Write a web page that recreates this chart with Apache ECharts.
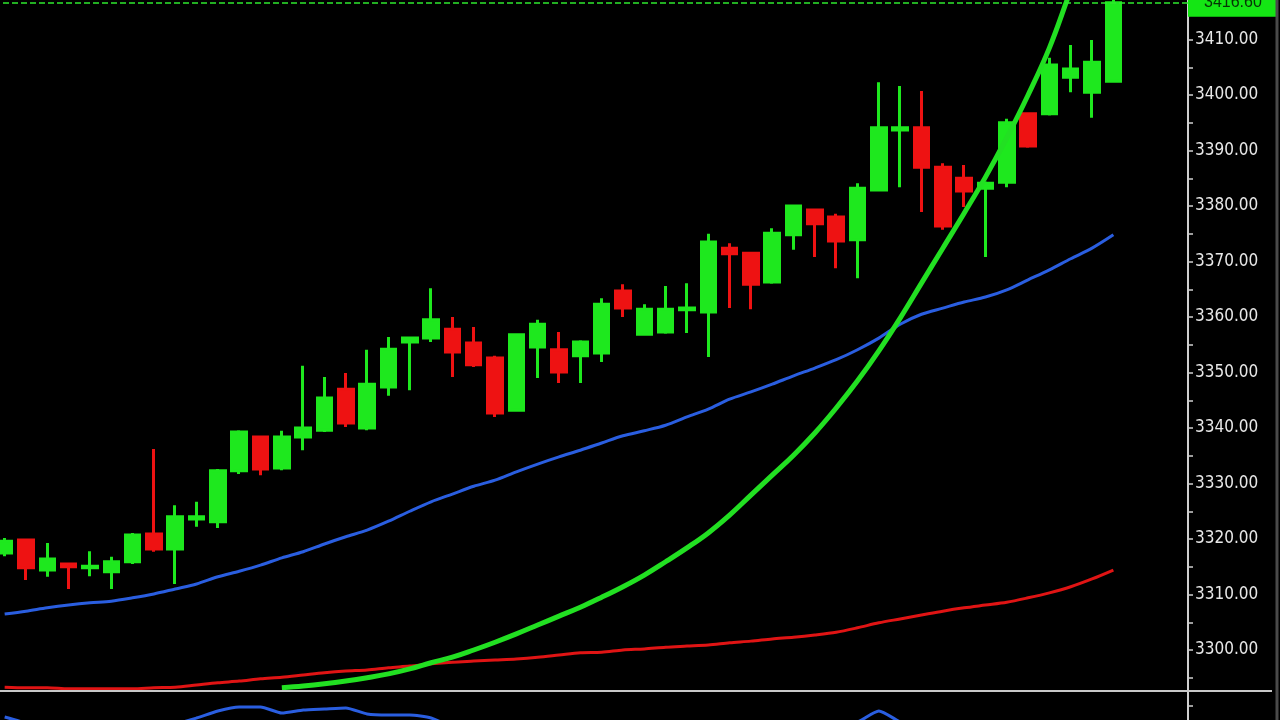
<!DOCTYPE html>
<html>
<head>
<meta charset="utf-8">
<script src="https://cdn.jsdelivr.net/npm/echarts@6/dist/echarts.min.js"></script>
<style>
html,body{margin:0;padding:0;background:#000;}
#chart{width:1280px;height:720px;}
</style>
</head>
<body>
<div id="chart"></div>
<script>
// ---- data ----
var categories = ['D01','D02','D03','D04','D05','D06','D07','D08','D09','D10','D11','D12','D13','D14','D15','D16','D17','D18','D19','D20','D21','D22','D23','D24','D25','D26','D27','D28','D29','D30','D31','D32','D33','D34','D35','D36','D37','D38','D39','D40','D41','D42','D43','D44','D45','D46','D47','D48','D49','D50','D51','D52','D53','D54','D55','D56'];
var opens  = [3317.5,3319.8,3314.4,3315.5,3314.8,3314.1,3315.9,3320.9,3318.2,3323.6,3323.1,3332.3,3338.4,3332.8,3338.4,3339.6,3347.0,3340.0,3347.4,3355.5,3356.2,3357.8,3355.3,3352.6,3343.2,3354.6,3354.1,3353.0,3353.5,3364.7,3356.9,3357.3,3361.3,3360.9,3372.4,3371.5,3366.3,3374.8,3379.3,3378.0,3373.9,3382.9,3393.7,3394.1,3387.0,3385.0,3383.2,3384.3,3396.6,3396.6,3403.2,3400.5,3402.5];
var closes = [3319.6,3314.8,3316.4,3315.0,3315.1,3315.9,3320.7,3318.2,3324.0,3324.0,3332.3,3339.3,3332.6,3338.4,3340.0,3345.4,3340.9,3347.9,3354.2,3356.2,3359.5,3353.7,3351.4,3342.7,3356.8,3358.7,3350.1,3355.5,3362.3,3361.6,3361.4,3361.4,3361.6,3373.5,3371.4,3365.9,3375.1,3380.0,3376.8,3373.7,3383.2,3394.1,3394.1,3387.0,3376.4,3382.7,3384.1,3395.0,3390.8,3405.4,3404.7,3405.9,3416.6];
var lows   = [3316.9,3312.6,3313.2,3311.0,3313.3,3311.0,3315.5,3317.7,3311.9,3322.2,3322.0,3331.7,3331.5,3332.4,3336.0,3339.3,3340.2,3339.6,3345.8,3346.8,3355.5,3349.2,3351.0,3342.0,3343.0,3349.0,3348.1,3348.1,3351.9,3360.0,3356.6,3357.0,3357.1,3352.8,3361.6,3361.4,3366.0,3372.1,3370.8,3368.8,3367.0,3382.6,3383.4,3378.9,3375.7,3379.8,3370.8,3383.4,3390.5,3396.3,3400.5,3395.9,3402.3];
var highs  = [3320.2,3320.0,3319.3,3315.7,3317.8,3316.8,3321.1,3336.2,3326.1,3326.7,3332.6,3339.6,3338.6,3339.5,3351.2,3349.2,3349.9,3354.1,3356.4,3356.4,3365.2,3360.0,3358.2,3353.0,3357.0,3359.5,3357.3,3355.8,3363.4,3365.9,3362.3,3365.6,3366.1,3375.0,3373.3,3371.7,3376.0,3380.2,3379.5,3378.6,3384.1,3402.3,3401.6,3400.7,3387.7,3387.4,3384.4,3395.7,3396.9,3406.7,3409.0,3409.9,3419.5];
var blueLine = [3306.5,3307.0,3307.6,3308.1,3308.5,3308.8,3309.4,3310.1,3311.0,3311.9,3313.2,3314.2,3315.3,3316.6,3317.7,3319.1,3320.4,3321.6,3323.2,3325.0,3326.7,3328.1,3329.5,3330.6,3332.1,3333.5,3334.8,3336.0,3337.3,3338.6,3339.5,3340.5,3342.0,3343.4,3345.2,3346.5,3347.9,3349.4,3350.8,3352.3,3354.1,3356.2,3358.7,3360.5,3361.6,3362.7,3363.6,3364.9,3366.7,3368.5,3370.5,3372.4,3374.8];
var redLine = [3293.3,3293.2,3293.2,3293.0,3293.0,3293.0,3293.0,3293.2,3293.3,3293.7,3294.1,3294.4,3294.8,3295.1,3295.5,3295.9,3296.2,3296.4,3296.8,3297.1,3297.5,3297.8,3298.0,3298.2,3298.4,3298.7,3299.1,3299.5,3299.6,3300.0,3300.2,3300.5,3300.7,3300.9,3301.3,3301.6,3302.0,3302.3,3302.7,3303.2,3304.0,3304.9,3305.6,3306.3,3307.0,3307.6,3308.1,3308.6,3309.4,3310.3,3311.4,3312.8,3314.4];
var greenCurve = [null,null,null,null,null,null,null,null,null,null,null,null,null,3293.2,3293.5,3293.9,3294.4,3295.0,3295.7,3296.6,3297.7,3298.7,3300.0,3301.4,3302.9,3304.5,3306.1,3307.7,3309.5,3311.4,3313.5,3315.9,3318.4,3321.1,3324.3,3327.9,3331.5,3335.1,3339.1,3343.6,3348.5,3353.9,3359.8,3366.1,3372.4,3378.7,3385.2,3392.3,3400.0,3408.5,3418.9,3428.8];
var lowerLine = [77,71,66,62,60,61,64,68,70,76,83,87,87,81,84,85,86,80,79,79,76,67,62,58,55,57,60,58,55,53,56,60,58,55,57,60,62,64,66,68,72,83,72,64,60,58,61,63,60,57,59,62,60];
var yTickMin = 3280, yTickMax = 3420, yTickStep = 10;
var firstLabel = 3300, lastLabel = 3410;

var candleData = opens.map(function (o, i) { return [o, closes[i], lows[i], highs[i]]; });
var lastClose = closes[closes.length - 1];

var UP = '#1ee81e', DOWN = '#ee1212';
var chart = echarts.init(document.getElementById('chart'), null, {renderer: 'canvas'});
chart.setOption({
  animation: false,
  backgroundColor: '#000',
  grid: [
    {left: -6, right: 92, top: -16, height: 777, outerBoundsMode: 'none', containLabel: false},
    {left: -6, right: 92, top: 694, height: 100, outerBoundsMode: 'none', containLabel: false}
  ],
  xAxis: [
    {type: 'category', data: categories, gridIndex: 0, boundaryGap: true, show: false},
    {type: 'category', data: categories, gridIndex: 1, boundaryGap: true, show: false}
  ],
  yAxis: [
    {
      type: 'value', gridIndex: 0, position: 'right',
      min: yTickMin, max: yTickMax, interval: yTickStep,
      splitLine: {show: false},
      axisLine: {show: true, lineStyle: {color: '#cfcfcf', width: 2}},
      axisTick: {show: true, length: 5, lineStyle: {color: '#cfcfcf', width: 1.5}},
      minorTick: {show: true, splitNumber: 2, length: 5, lineStyle: {color: '#cfcfcf', width: 1.5}},
      axisLabel: {
        color: '#e8e8e8', fontSize: 17, fontFamily: 'Liberation Sans Narrow, DejaVu Sans Condensed, sans-serif',
        margin: 7,
        formatter: function (v) { return (v < firstLabel || v > lastLabel) ? '' : v.toFixed(2); }
      }
    },
    {type: 'value', gridIndex: 1, min: 0, max: 100, show: false}
  ],
  graphic: [
    {type: 'line', shape: {x1: 0, y1: 691, x2: 1272, y2: 691}, style: {stroke: '#c8c8c8', lineWidth: 2}, z: 100},
    {type: 'line', shape: {x1: 1277, y1: 0, x2: 1277, y2: 720}, style: {stroke: '#4a4a4a', lineWidth: 3}, z: 100}
  ],
  series: [
    {
      type: 'candlestick', xAxisIndex: 0, yAxisIndex: 0,
      data: candleData, barWidth: 15,
      itemStyle: {color: UP, color0: DOWN, borderColor: UP, borderColor0: DOWN, borderWidth: 3},
      markLine: {
        silent: true, symbol: ['none', 'none'],
        lineStyle: {color: '#2ee82e', type: 'dashed', width: 1.5},
        label: {
          position: 'end', distance: 0,
          formatter: function (p) { return p.value.toFixed(2); },
          backgroundColor: '#14e614', color: '#063306',
          fontSize: 16, fontFamily: 'Liberation Sans Narrow, sans-serif',
          padding: [6, 16, 6, 16]
        },
        data: [{yAxis: lastClose}]
      },
      z: 2
    },
    {
      type: 'line', xAxisIndex: 0, yAxisIndex: 0, data: blueLine, smooth: 0.3,
      symbol: 'none', lineStyle: {color: '#2a5ee0', width: 3}, z: 3
    },
    {
      type: 'line', xAxisIndex: 0, yAxisIndex: 0, data: redLine, smooth: 0.3,
      symbol: 'none', lineStyle: {color: '#e01414', width: 3}, z: 3
    },
    {
      type: 'line', xAxisIndex: 0, yAxisIndex: 0, data: greenCurve, smooth: 0.4,
      symbol: 'none', lineStyle: {color: '#22e022', width: 5}, z: 4
    },
    {
      type: 'line', xAxisIndex: 1, yAxisIndex: 1, data: lowerLine, smooth: 0.2,
      symbol: 'none', lineStyle: {color: '#2a5ee0', width: 3}, z: 3
    }
  ]
});
</script>
</body>
</html>
